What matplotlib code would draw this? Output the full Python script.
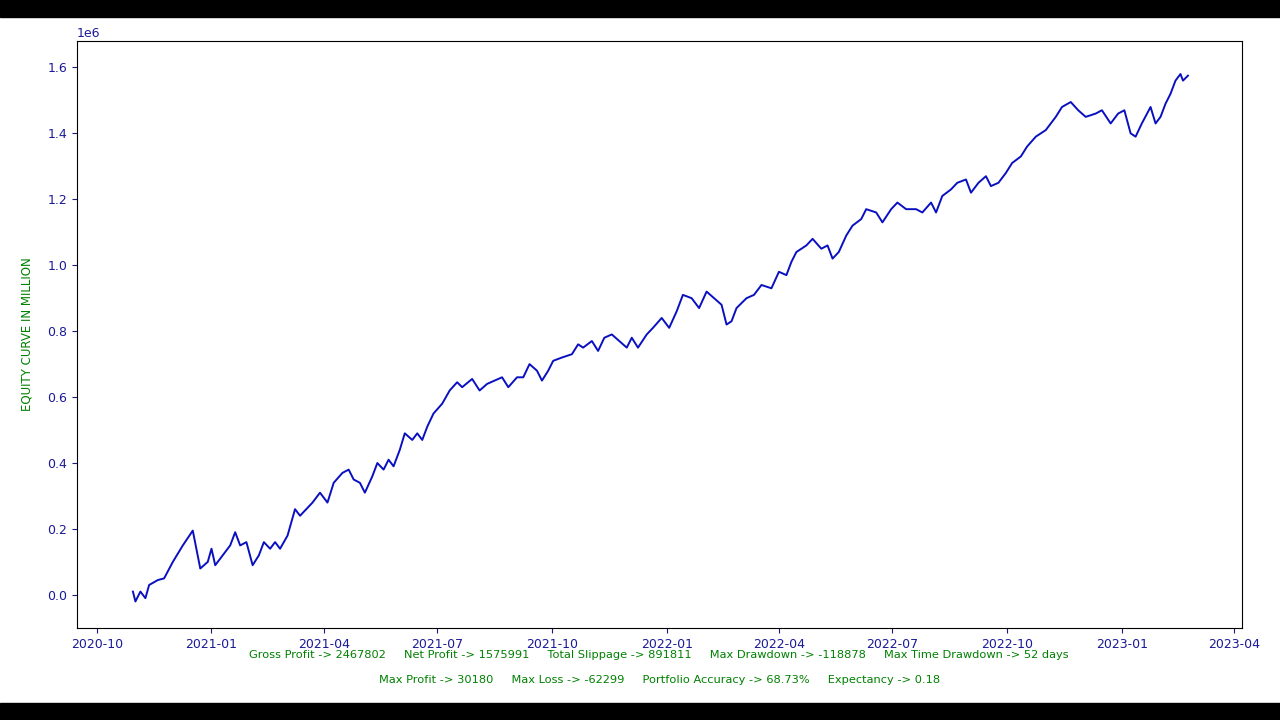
import matplotlib
matplotlib.use("Agg")
import matplotlib.pyplot as plt
import matplotlib.dates as mdates
import pandas as pd
from matplotlib.patches import Rectangle

day_offsets = [29,31,35,39,42,49,54,61,69,77,83,89,92,95,101,107,111,115,120,125,130,134,139,143,147,153,159,163,173,179,185,190,197,202,206,211,215,221,225,230,234,238,243,247,253,257,261,265,270,277,283,289,293,301,307,313,319,325,330,337,342,347,353,357,362,366,373,381,386,390,397,402,407,413,419,425,429,434,441,446,453,459,465,470,477,483,489,495,501,505,509,513,521,527,533,541,547,553,557,561,569,574,581,586,590,595,601,606,613,617,625,630,637,642,649,657,662,669,673,678,685,690,697,701,707,713,717,723,729,734,741,746,753,761,769,774,781,787,793,801,806,813,819,824,829,833,838,845,849,853,857,861,865,869,871,875]
equity_m = [0.01,-0.02,0.01,-0.01,0.03,0.045,0.05,0.10,0.15,0.195,0.08,0.10,0.14,0.09,0.12,0.15,0.19,0.15,0.16,0.09,0.12,0.16,0.14,0.16,0.14,0.18,0.26,0.24,0.28,0.31,0.28,0.34,0.37,0.38,0.35,0.34,0.31,0.36,0.40,0.38,0.41,0.39,0.44,0.49,0.47,0.49,0.47,0.51,0.55,0.58,0.62,0.645,0.63,0.655,0.62,0.64,0.65,0.66,0.63,0.66,0.66,0.70,0.68,0.65,0.68,0.71,0.72,0.73,0.76,0.75,0.77,0.74,0.78,0.79,0.77,0.75,0.78,0.75,0.79,0.81,0.84,0.81,0.86,0.91,0.90,0.87,0.92,0.90,0.88,0.82,0.83,0.87,0.90,0.91,0.94,0.93,0.98,0.97,1.01,1.04,1.06,1.08,1.05,1.06,1.02,1.04,1.09,1.12,1.14,1.17,1.16,1.13,1.17,1.19,1.17,1.17,1.16,1.19,1.16,1.21,1.23,1.25,1.26,1.22,1.25,1.27,1.24,1.25,1.28,1.31,1.33,1.36,1.39,1.41,1.45,1.48,1.495,1.47,1.45,1.46,1.47,1.43,1.46,1.47,1.40,1.39,1.43,1.48,1.43,1.45,1.49,1.52,1.56,1.58,1.56,1.575]
stats_line1 = "Gross Profit -> 2467802     Net Profit -> 1575991     Total Slippage -> 891811     Max Drawdown -> -118878     Max Time Drawdown -> 52 days"
stats_line2 = "Max Profit -> 30180     Max Loss -> -62299     Portfolio Accuracy -> 68.73%     Expectancy -> 0.18"

dates = pd.Timestamp("2020-10-01") + pd.to_timedelta(day_offsets, unit="D")
values = [v * 1e6 for v in equity_m]

fig = plt.figure(figsize=(12.8, 7.2), dpi=100)
fig.patches.append(Rectangle((0, 1 - 17/720), 1, 17/720, transform=fig.transFigure, color="black", zorder=0))
fig.patches.append(Rectangle((0, 0), 1, 17/720, transform=fig.transFigure, color="black", zorder=0))
ax = fig.add_axes([0.060, 0.128, 0.910, 0.815])
ax.plot(dates, values, color="#0a10c0", lw=1.4)
ax.set_xlim(pd.Timestamp("2020-09-15"), pd.Timestamp("2023-04-07"))
ax.set_ylim(-0.1e6, 1.68e6)
ax.xaxis.set_major_locator(mdates.MonthLocator(bymonth=[1, 4, 7, 10]))
ax.xaxis.set_major_formatter(mdates.DateFormatter("%Y-%m"))
ax.tick_params(colors="#1a1a80", labelcolor="#1a1a99", labelsize=9)
ax.yaxis.get_offset_text().set_color("#1a1a99")
ax.yaxis.get_offset_text().set_fontsize(9)
ax.set_ylabel("EQUITY CURVE IN MILLION", color="green", fontsize=8.5, labelpad=10)
fig.text(0.515, 0.090, stats_line1, color="green", fontsize=8.2, ha="center", va="center")
fig.text(0.515, 0.056, stats_line2, color="green", fontsize=8.2, ha="center", va="center")
fig.savefig("out.png", dpi=100)
